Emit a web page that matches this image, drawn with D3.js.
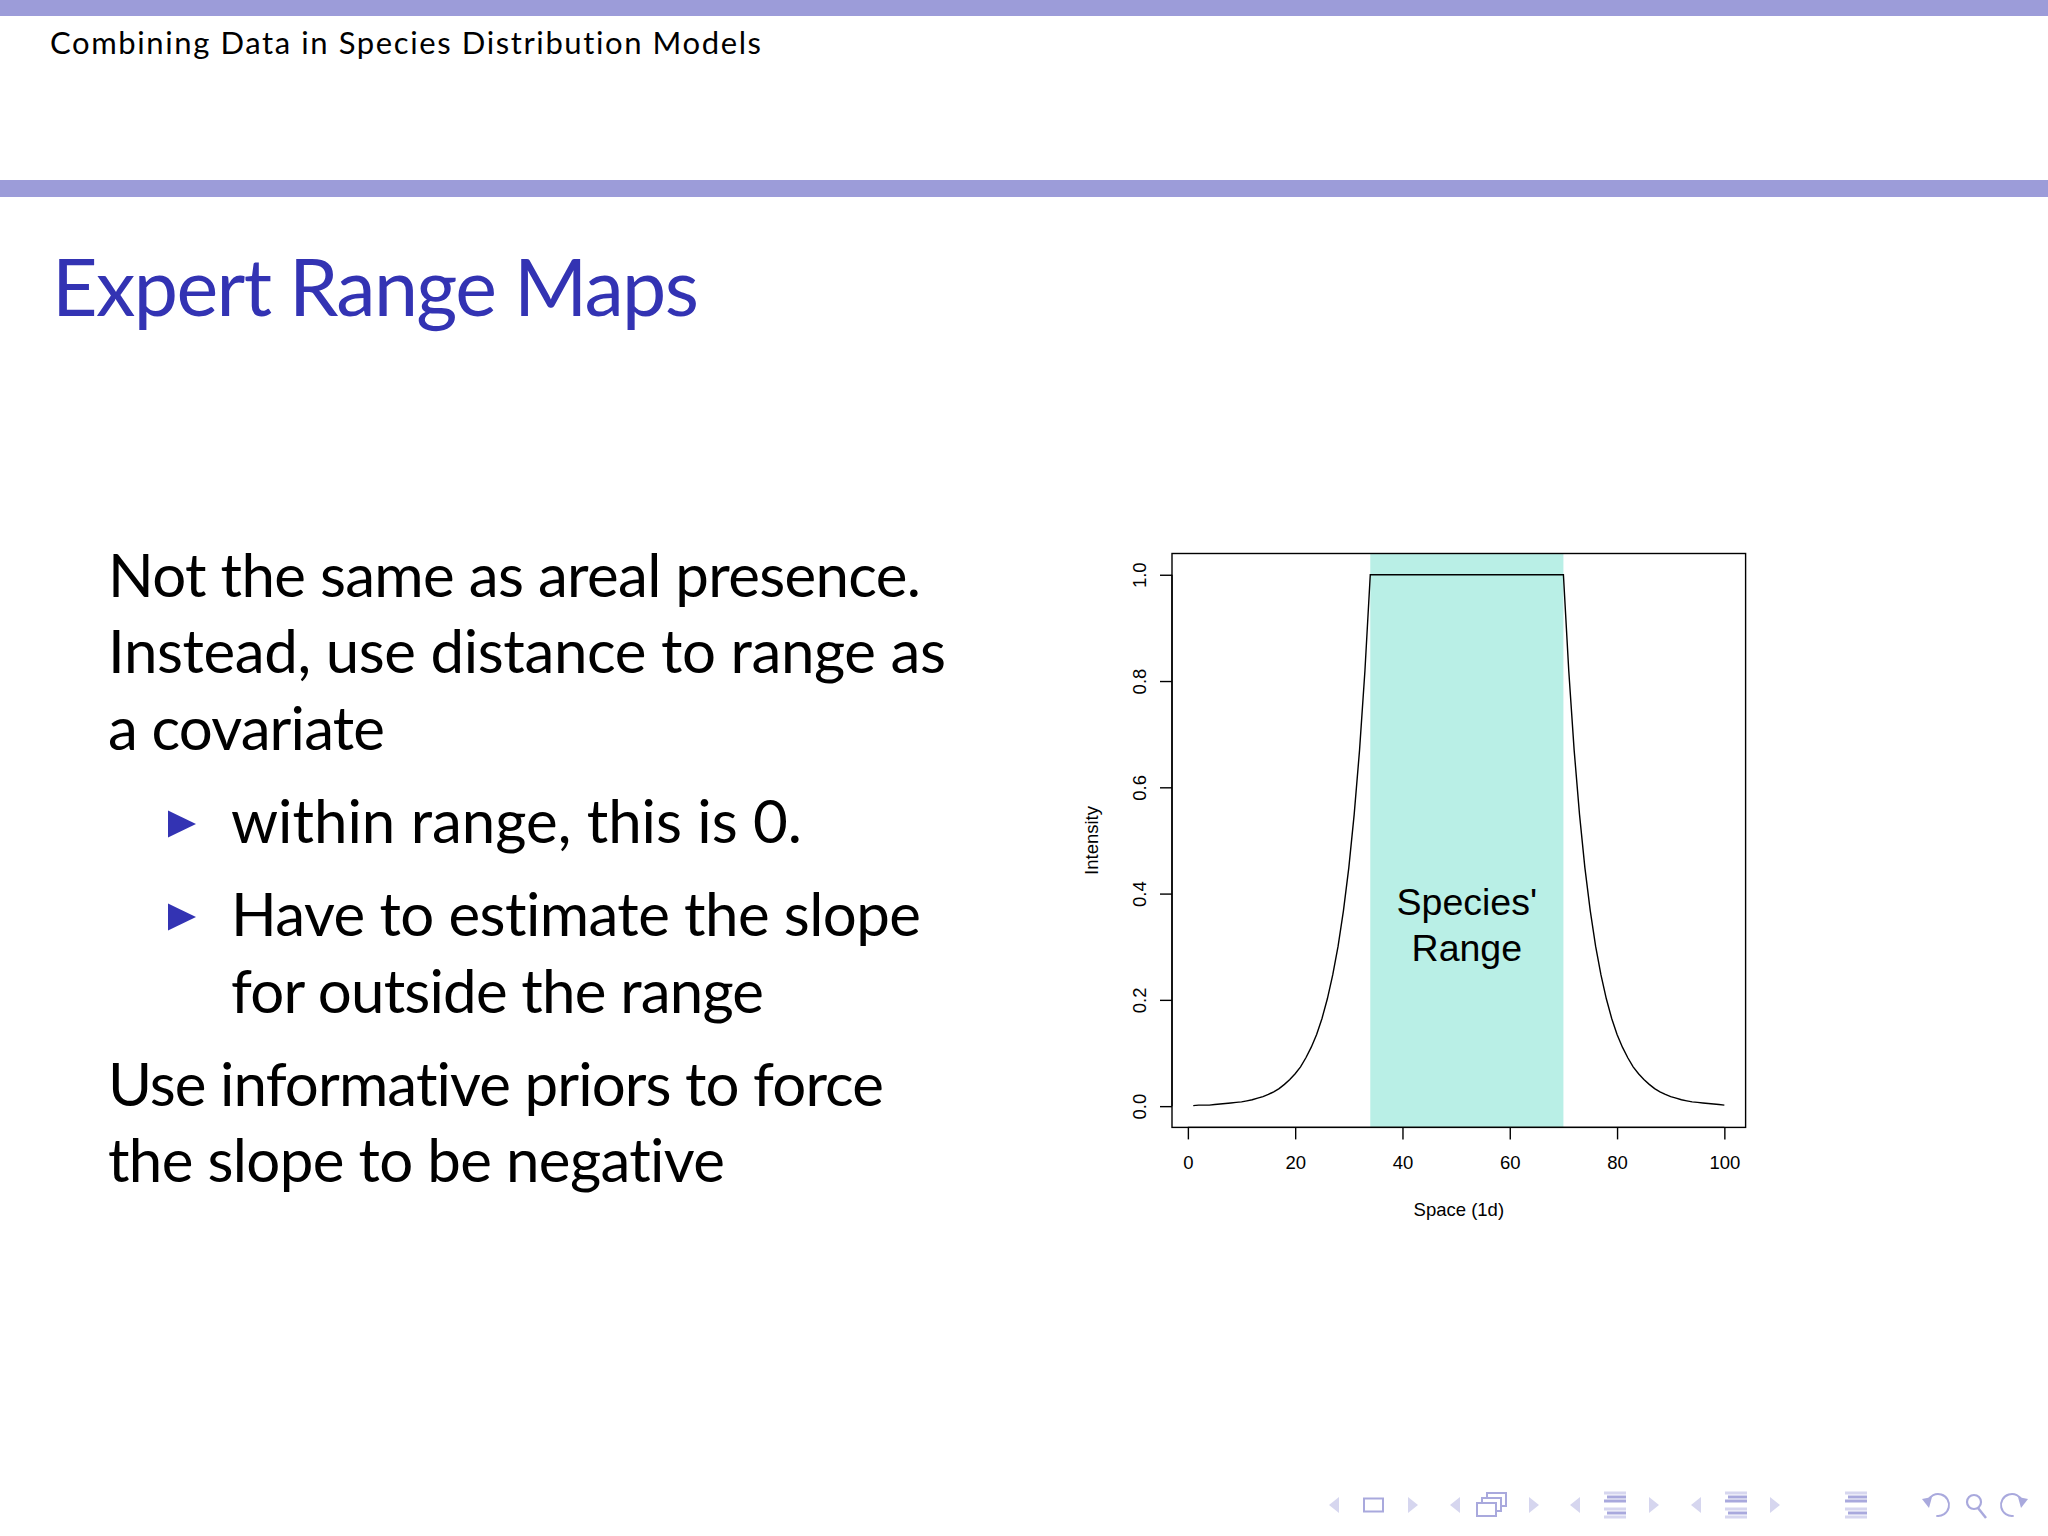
<!DOCTYPE html>
<html>
<head>
<meta charset="utf-8">
<script src="https://cdn.jsdelivr.net/npm/d3@7"></script>
<style>
  html, body { margin: 0; padding: 0; background: #fff; }
  svg { display: block; }
  text { font-variant-ligatures: none; font-feature-settings: "liga" 0, "clig" 0; }
</style>
</head>
<body>
<div id="slide"></div>
<script>
// Slide text
const headerText = "Combining Data in Species Distribution Models";
const titleText = "Expert Range Maps";
const bodyLines = [
  { text: "Not the same as areal presence.", indent: 0, bullet: false },
  { text: "Instead, use distance to range as", indent: 0, bullet: false },
  { text: "a covariate", indent: 0, bullet: false },
  { text: "within range, this is 0.", indent: 1, bullet: true },
  { text: "Have to estimate the slope", indent: 1, bullet: true },
  { text: "for outside the range", indent: 1, bullet: false },
  { text: "Use informative priors to force", indent: 0, bullet: false },
  { text: "the slope to be negative", indent: 0, bullet: false }
];
const bodyBaselines = [597, 673, 750, 843, 936, 1013, 1106, 1182];
const bodyRightEdges = [921, 946, 385, 802, 921, 764, 884, 725];

// Chart data
const space = d3.range(1, 101);
const intensity = [
  0.001, 0.002, 0.002, 0.002, 0.003, 0.004, 0.005, 0.006, 0.007, 0.008,
  0.010, 0.012, 0.015, 0.018, 0.022, 0.027, 0.033, 0.041, 0.050, 0.061,
  0.074, 0.091, 0.111, 0.135, 0.165, 0.202, 0.247, 0.301, 0.368, 0.449,
  0.549, 0.670, 0.819,
  1, 1, 1, 1, 1, 1, 1, 1, 1, 1, 1, 1, 1, 1, 1, 1, 1, 1, 1, 1,
  1, 1, 1, 1, 1, 1, 1, 1, 1, 1, 1, 1, 1, 1, 1, 1, 1,
  0.819, 0.670, 0.549, 0.449, 0.368, 0.301, 0.247, 0.202, 0.165, 0.135,
  0.111, 0.091, 0.074, 0.061, 0.050, 0.041, 0.033, 0.027, 0.022, 0.018,
  0.015, 0.012, 0.010, 0.008, 0.007, 0.006, 0.005, 0.004, 0.003, 0.002
];
const rangeStart = 34, rangeEnd = 70;
const xTicks = [0, 20, 40, 60, 80, 100];
const yTicks = [0, 0.2, 0.4, 0.6, 0.8, 1.0];
const rangeLabel = ["Species'", "Range"];

// Colors
const colorBar = "#9c9cd9";
const colorTitle = "#3333b3";
const colorRange = "#b9efe6";
const colorNavLight = "#d6d6ef";
const colorNav = "#a9a9dd";

const width = 2048, height = 1536;
const svg = d3.select("#slide").append("svg")
  .attr("width", width)
  .attr("height", height);

// Beamer headline bars
svg.append("rect").attr("x", 0).attr("y", 0).attr("width", width).attr("height", 16).attr("fill", colorBar);
svg.append("rect").attr("x", 0).attr("y", 180).attr("width", width).attr("height", 17).attr("fill", colorBar);

const slideFont = "Lato, 'Open Sans', sans-serif";

svg.append("text")
  .attr("x", 50).attr("y", 54)
  .attr("font-family", slideFont).attr("font-size", 31)
  .attr("textLength", 711).attr("lengthAdjust", "spacing")
  .attr("fill", "#000")
  .text(headerText);

svg.append("text")
  .attr("x", 52).attr("y", 316)
  .attr("font-family", slideFont).attr("font-size", 79)
  .attr("textLength", 647).attr("lengthAdjust", "spacing")
  .attr("fill", colorTitle)
  .text(titleText);

// Body text
bodyLines.forEach((line, i) => {
  const x0 = line.indent ? 231 : 108;
  svg.append("text")
    .attr("x", x0).attr("y", bodyBaselines[i])
    .attr("font-family", slideFont).attr("font-size", 60)
    .attr("textLength", bodyRightEdges[i] - x0).attr("lengthAdjust", "spacing")
    .attr("fill", "#000")
    .text(line.text);
  if (line.bullet) {
    const cy = bodyBaselines[i] - 19;
    svg.append("path")
      .attr("d", `M168,${cy - 13.5}L196,${cy}L168,${cy + 13.5}Z`)
      .attr("fill", colorTitle);
  }
});

// ---- R style plot ----
const frame = { left: 1172, right: 1745.6, top: 553.5, bottom: 1127.4 };
const xExt = d3.extent(space), yExt = [0, 1];
const xPad = (xExt[1] - xExt[0]) * 0.04, yPad = (yExt[1] - yExt[0]) * 0.04;

const x = d3.scaleLinear().domain([xExt[0] - xPad, xExt[1] + xPad]).range([frame.left, frame.right]);
const y = d3.scaleLinear().domain([yExt[0] - yPad, yExt[1] + yPad]).range([frame.bottom, frame.top]);

const plotFont = "'Liberation Sans', Arial, Helvetica, sans-serif";
const plot = svg.append("g");

// Species range band
plot.append("rect")
  .attr("x", x(rangeStart))
  .attr("y", frame.top)
  .attr("width", x(rangeEnd) - x(rangeStart))
  .attr("height", frame.bottom - frame.top)
  .attr("fill", colorRange);

// Intensity curve
const line = d3.line()
  .x((d, i) => x(space[i]))
  .y(d => y(d));

plot.append("path")
  .datum(intensity)
  .attr("d", line)
  .attr("fill", "none")
  .attr("stroke", "#000")
  .attr("stroke-width", 1.4);

// Range label
rangeLabel.forEach((t, i) => {
  plot.append("text")
    .attr("x", x((rangeStart + rangeEnd) / 2))
    .attr("y", y(0.359) + i * 46)
    .attr("text-anchor", "middle")
    .attr("font-family", plotFont).attr("font-size", 37.5)
    .attr("fill", "#000")
    .text(t);
});

// Box
plot.append("rect")
  .attr("x", frame.left).attr("y", frame.top)
  .attr("width", frame.right - frame.left).attr("height", frame.bottom - frame.top)
  .attr("fill", "none").attr("stroke", "#000").attr("stroke-width", 1.4);

// X axis
const xAxis = plot.append("g")
  .attr("transform", `translate(0,${frame.bottom})`)
  .call(d3.axisBottom(x).tickValues(xTicks).tickSize(12).tickSizeOuter(0).tickFormat(d3.format("d")));
xAxis.select(".domain").remove();
xAxis.append("line")
  .attr("x1", x(xTicks[0])).attr("x2", x(xTicks[xTicks.length - 1]))
  .attr("stroke", "#000").attr("stroke-width", 1.4);
xAxis.selectAll(".tick line").attr("stroke", "#000").attr("stroke-width", 1.4);
xAxis.selectAll(".tick text")
  .attr("y", 42).attr("dy", 0)
  .attr("font-family", plotFont).attr("font-size", 18.5).attr("fill", "#000");

// Y axis
const yAxis = plot.append("g")
  .attr("transform", `translate(${frame.left},0)`)
  .call(d3.axisLeft(y).tickValues(yTicks).tickSize(12).tickSizeOuter(0).tickFormat(d3.format(".1f")));
yAxis.select(".domain").remove();
yAxis.append("line")
  .attr("y1", y(yTicks[0])).attr("y2", y(yTicks[yTicks.length - 1]))
  .attr("stroke", "#000").attr("stroke-width", 1.4);
yAxis.selectAll(".tick line").attr("stroke", "#000").attr("stroke-width", 1.4);
yAxis.selectAll(".tick text")
  .attr("x", null).attr("dy", null)
  .attr("transform", "translate(-26.5,0) rotate(-90)")
  .attr("text-anchor", "middle")
  .attr("font-family", plotFont).attr("font-size", 18.5).attr("fill", "#000");

// Axis titles
plot.append("text")
  .attr("x", (frame.left + frame.right) / 2).attr("y", 1215.6)
  .attr("text-anchor", "middle")
  .attr("font-family", plotFont).attr("font-size", 18.5)
  .text("Space (1d)");

plot.append("text")
  .attr("transform", `translate(1098,${(frame.top + frame.bottom) / 2}) rotate(-90)`)
  .attr("text-anchor", "middle")
  .attr("font-family", plotFont).attr("font-size", 18.5)
  .text("Intensity");

// ---- Beamer navigation symbols ----
const nav = svg.append("g");
const navCy = 1505;

function leftTri(x0) {
  nav.append("path").attr("d", `M${x0 + 10},${navCy - 8}L${x0},${navCy}L${x0 + 10},${navCy + 8}Z`).attr("fill", colorNavLight);
}
function rightTri(x0) {
  nav.append("path").attr("d", `M${x0},${navCy - 8}L${x0 + 10},${navCy}L${x0},${navCy + 8}Z`).attr("fill", colorNavLight);
}
function listIcon(x0) {
  const rows = [
    { dy: -12, c: colorNavLight }, { dy: -4, c: colorNav },
    { dy: 4, c: colorNavLight }, { dy: 12, c: colorNavLight }
  ];
  rows.forEach(r => {
    nav.append("rect").attr("x", x0).attr("y", navCy + r.dy - 1.5)
      .attr("width", 22).attr("height", 3).attr("fill", r.c);
  });
  nav.append("rect").attr("x", x0 + 3).attr("y", navCy - 8 - 1.5).attr("width", 19).attr("height", 3).attr("fill", colorNav);
  nav.append("rect").attr("x", x0 + 3).attr("y", navCy + 8 - 1.5).attr("width", 19).attr("height", 3).attr("fill", colorNav);
}

leftTri(1329);
nav.append("rect").attr("x", 1364).attr("y", navCy - 6.5).attr("width", 19).attr("height", 13)
  .attr("fill", "none").attr("stroke", colorNav).attr("stroke-width", 2);
rightTri(1408);

leftTri(1450);
[[1487, 1493], [1482, 1498], [1477, 1503]].forEach(([fx, fy]) => {
  nav.append("rect").attr("x", fx).attr("y", fy).attr("width", 19).attr("height", 13)
    .attr("fill", "#fff").attr("stroke", colorNav).attr("stroke-width", 2);
});
rightTri(1529);

leftTri(1570);
listIcon(1604);
rightTri(1649);

leftTri(1691);
listIcon(1725);
rightTri(1770);

listIcon(1845);

// undo, search, redo
nav.append("path")
  .attr("transform", `translate(1938,${navCy})`)
  .attr("d", d3.arc()({ innerRadius: 10, outerRadius: 12, startAngle: -1.2, endAngle: Math.PI * 1.05 }))
  .attr("fill", colorNav);
nav.append("path").attr("d", `M1922,${navCy - 6}L1929,${navCy + 3}L1932,${navCy - 8}Z`).attr("fill", colorNav);

nav.append("circle").attr("cx", 1974).attr("cy", navCy - 3).attr("r", 7)
  .attr("fill", "none").attr("stroke", colorNav).attr("stroke-width", 2.2);
nav.append("line").attr("x1", 1978).attr("y1", navCy + 3).attr("x2", 1986).attr("y2", navCy + 13)
  .attr("stroke", colorNav).attr("stroke-width", 2.5);

nav.append("path")
  .attr("transform", `translate(2012,${navCy})`)
  .attr("d", d3.arc()({ innerRadius: 10, outerRadius: 12, startAngle: -Math.PI * 1.05, endAngle: 1.2 }))
  .attr("fill", colorNav);
nav.append("path").attr("d", `M2028,${navCy - 6}L2021,${navCy + 3}L2018,${navCy - 8}Z`).attr("fill", colorNav);
</script>
</body>
</html>
